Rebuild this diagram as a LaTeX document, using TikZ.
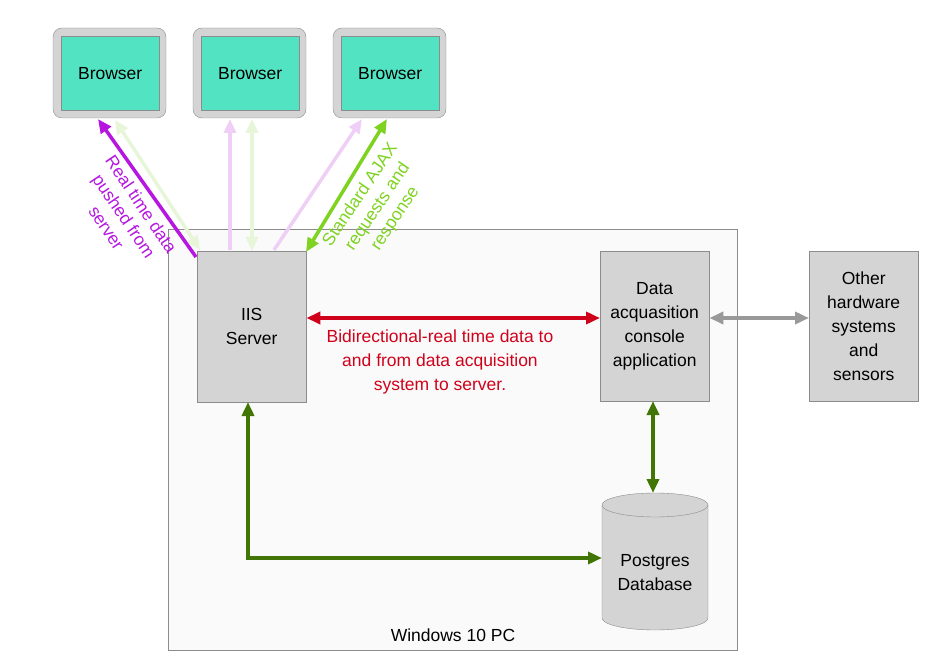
\documentclass[tikz,border=0pt]{standalone}
\usepackage{fontspec}
\setmainfont{Liberation Sans}
\usetikzlibrary{arrows.meta}
\begin{document}
\begin{tikzpicture}[x=1pt,y=-1pt,
  font=\fontsize{17.5}{24}\selectfont,
  box/.style={draw=black!45,fill=black!17,align=center,inner sep=0},
  outer/.style={draw=black!45,fill=black!17,rounded corners=9pt},
  scr/.style={draw=black!45,inner sep=0},
  arr/.style={line width=3.5pt,-{Triangle[length=14pt,width=12pt]}},
  darr/.style={line width=3.5pt,{Triangle[length=14pt,width=12pt]}-{Triangle[length=14pt,width=12pt]}}]
\definecolor{scrc}{HTML}{52E3C2}
\definecolor{pur}{HTML}{B616E0}
\definecolor{lpur}{HTML}{F0CFF6}
\definecolor{grn}{HTML}{7ED321}
\definecolor{lgrn}{HTML}{E7F6D9}
\definecolor{dgrn}{HTML}{417505}
\definecolor{red}{HTML}{D0021B}
\useasboundingbox (0,0) rectangle (940,668);
\node[draw=black!45,fill=black!2,minimum width=569pt,minimum height=421pt,anchor=north west,inner sep=0] (pc) at (168,229) {};
\node[anchor=south] (pcl) at (453,645) {Windows 10 PC};
\foreach \i/\x in {1/53,2/193,3/333}{
  \draw[outer] (\x,28) rectangle ++(113,90);
  \node[scr,fill=scrc,minimum width=98pt,minimum height=74pt,anchor=north west] (b\i) at (\x+8,36) {Browser};
}
\node[box,minimum width=109pt,minimum height=151pt,anchor=north west] (iis) at (197,251) {IIS\\Server};
\node[box,minimum width=109pt,minimum height=150pt,anchor=north west] (daq) at (600,251) {Data\\acquasition\\console\\application};
\node[box,minimum width=109pt,minimum height=150pt,anchor=north west] (oth) at (809,251) {Other\\hardware\\systems\\and\\sensors};
% cylinder
\fill[black!17] (602,505) -- (602,618) arc[start angle=180,end angle=360,x radius=53pt,y radius=12pt] -- (708,505) arc[start angle=0,end angle=180,x radius=53pt,y radius=12pt] -- cycle;
\draw[black!45] (602,505) -- (602,618) arc[start angle=180,end angle=360,x radius=53pt,y radius=12pt] -- (708,505);
\draw[black!45] (655,505) ellipse[x radius=53pt,y radius=12pt];
\node[align=center] (db) at (655,573) {Postgres\\Database};
\coordinate (dbl) at (602,558);
% browser arrows
\draw[darr,lgrn] (200,250) -- (115,120);
\draw[arr,pur] (196,257) -- (98,119);
\draw[arr,lpur] (230,250) -- (230,119);
\draw[darr,lgrn] (252,251) -- (252,119);
\draw[arr,lpur] (274,250) -- (362,119);
\draw[darr,grn] (306,252) -- (387,119);
\node[pur,rotate=-56,align=center,font=\fontsize{17.5}{21}\selectfont] (t1) at (124,216) {Real time data\\pushed from\\server};
\node[grn,rotate=56,align=center,font=\fontsize{17.5}{21}\selectfont] (t2) at (378,207) {Standard AJAX\\requests and\\response};
% main arrows
\draw[darr,red] (iis.east|-0,318) -- (daq.west|-0,318);
\node[red,align=center] (rl) at (440,362) {Bidirectional-real time data to\\and from data acquisition\\system to server.};
\draw[darr,black!40] (daq.east|-0,318) -- (oth.west|-0,318);
\draw[darr,dgrn] (653,401) -- (653,493);
\draw[darr,dgrn] (248,402) -- (248,558) -- (dbl);
\end{tikzpicture}
\end{document}
